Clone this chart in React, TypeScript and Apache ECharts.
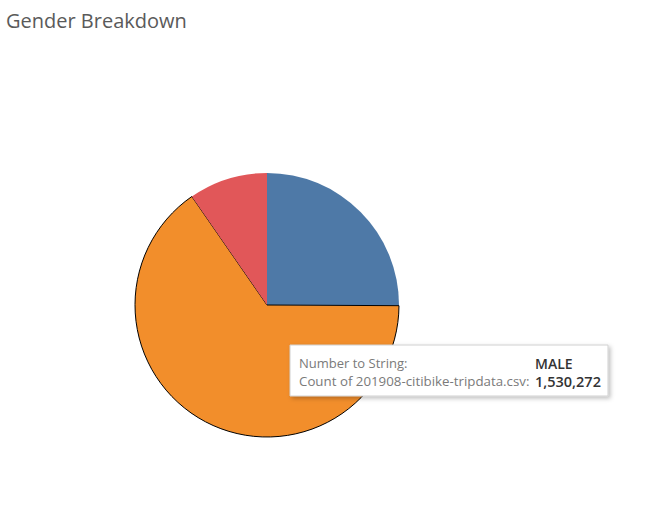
import React, { useEffect, useRef } from "react";
import * as echarts from "echarts";

const categories = ["FEMALE", "MALE", "UNKNOWN"];
const tripCounts = [588000, 1530272, 226000];
const sliceColors = ["#4e79a7", "#f28e2b", "#e15759"];
const highlightedIndex = 1;
const titleText = "Gender Breakdown";
const tooltipLabels = ["Number to String:", "Count of 201908-citibike-tripdata.csv:"];

const fmt = (n: number) => n.toLocaleString("en-US");

export default function App() {
  const ref = useRef<HTMLDivElement>(null);
  useEffect(() => {
    document.body.style.margin = "0";
    const chart = echarts.init(ref.current!, null, { renderer: "svg" });
    const font = "'Open Sans', 'Noto Sans', sans-serif";
    chart.setOption({
      animation: false,
      backgroundColor: "#ffffff",
      title: {
        text: titleText,
        left: 1,
        top: 5,
        textStyle: { fontFamily: font, fontSize: 20, fontWeight: "normal", color: "#5a5a5a" },
      },
      series: [
        {
          type: "pie",
          center: [267, 305],
          radius: [0, 132],
          startAngle: 90,
          clockwise: true,
          label: { show: false },
          labelLine: { show: false },
          emphasis: { disabled: true },
          data: categories.map((c, i) => ({
            name: c,
            value: tripCounts[i],
            itemStyle: {
              color: sliceColors[i],
              borderColor: i === highlightedIndex ? "#000000" : sliceColors[i],
              borderWidth: i === highlightedIndex ? 1 : 0,
            },
          })),
        },
      ],
      graphic: [
        {
          type: "group",
          x: 290,
          y: 345,
          z: 100,
          children: [
            {
              type: "rect",
              z: 100,
              shape: { x: 0, y: 0, width: 318, height: 51 },
              style: {
                fill: "#ffffff",
                stroke: "#d0d0d0",
                lineWidth: 1,
                shadowBlur: 4,
                shadowOffsetX: 2,
                shadowOffsetY: 2,
                shadowColor: "rgba(0,0,0,0.25)",
              },
            },
            {
              type: "text",
              z: 101,
              x: 9,
              y: 18,
              style: {
                text: tooltipLabels[0],
                fontFamily: font,
                fontSize: 13,
                fill: "#7a7a7a",
                verticalAlign: "middle",
              },
            },
            {
              type: "text",
              z: 101,
              x: 245,
              y: 18,
              style: {
                text: categories[highlightedIndex],
                fontFamily: font,
                fontSize: 14,
                fontWeight: 600,
                fill: "#333333",
                verticalAlign: "middle",
              },
            },
            {
              type: "text",
              z: 101,
              x: 9,
              y: 36,
              style: {
                text: tooltipLabels[1],
                fontFamily: font,
                fontSize: 13.3,
                fill: "#7a7a7a",
                verticalAlign: "middle",
              },
            },
            {
              type: "text",
              z: 101,
              x: 245,
              y: 36,
              style: {
                text: fmt(tripCounts[highlightedIndex]),
                fontFamily: font,
                fontSize: 14.5,
                fontWeight: 600,
                fill: "#333333",
                verticalAlign: "middle",
              },
            },
          ],
        },
      ],
    });
    return () => chart.dispose();
  }, []);
  return <div ref={ref} style={{ width: 648, height: 527 }} />;
}
